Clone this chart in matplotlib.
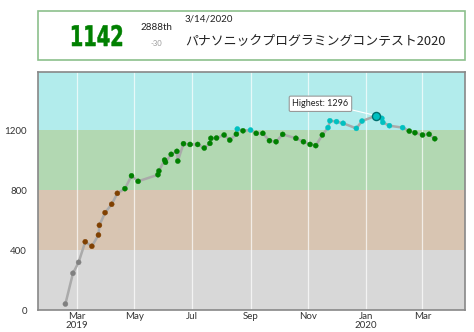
import numpy as np
import pandas as pd
import matplotlib
matplotlib.use("Agg")
import matplotlib.pyplot as plt
import matplotlib.transforms as mtransforms
from matplotlib.patches import FancyBboxPatch, PathPatch
from matplotlib.textpath import TextPath
from matplotlib.font_manager import FontProperties

plt.rcParams.update({"font.family": ["Lato", "DejaVu Sans"]})

# contest dates and ratings
dates = ["2019-02-17", "2019-02-25", "2019-03-03", "2019-03-10", "2019-03-17",
         "2019-03-24", "2019-03-25", "2019-03-31", "2019-04-07", "2019-04-13",
         "2019-04-21", "2019-04-28", "2019-05-05", "2019-05-26", "2019-05-27",
         "2019-06-02", "2019-06-03", "2019-06-09", "2019-06-15", "2019-06-16",
         "2019-06-22", "2019-06-29", "2019-07-07", "2019-07-14", "2019-07-20",
         "2019-07-21", "2019-07-27", "2019-08-04", "2019-08-10", "2019-08-17",
         "2019-08-18", "2019-08-24", "2019-09-01", "2019-09-07", "2019-09-14",
         "2019-09-21", "2019-09-28", "2019-10-05", "2019-10-19", "2019-10-27",
         "2019-11-03", "2019-11-09", "2019-11-16", "2019-11-22", "2019-11-24",
         "2019-12-01", "2019-12-08", "2019-12-22", "2019-12-28", "2020-01-12",
         "2020-01-18", "2020-01-19", "2020-01-26", "2020-02-09", "2020-02-16",
         "2020-02-22", "2020-03-01", "2020-03-08", "2020-03-14"]
ratings = [40, 245, 318, 455, 425, 500, 565, 649, 705, 778,
           809, 895, 858, 902, 927, 1000, 985, 1038, 1058, 993,
           1109, 1104, 1104, 1080, 1111, 1145, 1147, 1167, 1133, 1173,
           1207, 1195, 1200, 1178, 1178, 1129, 1122, 1171, 1145, 1122,
           1104, 1096, 1167, 1216, 1262, 1256, 1245, 1211, 1260, 1296,
           1278, 1251, 1229, 1216, 1193, 1182, 1167, 1172, 1142]

band_edges = [0, 400, 800, 1200, 1600]
band_colors = ["#d8d8d8", "#d8c5b2", "#b2d8b2", "#b2ecec"]
dot_colors = ["#808080", "#804000", "#008000", "#00c0c0"]

x_ticks = ["2019-03-01", "2019-05-01", "2019-07-01", "2019-09-01",
           "2019-11-01", "2020-01-01", "2020-03-01"]
x_labels = ["Mar\n2019", "May", "Jul", "Sep", "Nov", "Jan\n2020", "Mar"]
y_ticks = [0, 400, 800, 1200]

t = pd.to_datetime(dates)
r = np.array(ratings)

fig = plt.figure(figsize=(4.74, 3.32), dpi=100)
ax = fig.add_axes([38 / 474, 22 / 332, 427 / 474, 238 / 332])

for lo, hi, c in zip(band_edges[:-1], band_edges[1:], band_colors):
    ax.axhspan(lo, hi, color=c, zorder=0, lw=0)

ax.set_xlim(pd.Timestamp("2019-01-19"), pd.Timestamp("2020-04-15"))
ax.set_ylim(0, 1587)
ax.set_xticks(pd.to_datetime(x_ticks))
ax.set_xticklabels(x_labels, fontsize=7, color="#333333", linespacing=0.95)
ax.set_yticks(y_ticks)
ax.set_yticklabels([str(v) for v in y_ticks], fontsize=7, color="#333333")
ax.tick_params(length=0)
ax.tick_params(axis="x", pad=1.5)
ax.tick_params(axis="y", pad=8)
ax.grid(axis="x", color="white", lw=0.9, alpha=0.7, zorder=1)
for s in ax.spines.values():
    s.set_color("#888888")
    s.set_linewidth(1.2)

ax.plot(t, r, color="#aaaaaa", lw=1.8, zorder=2)
cols = [dot_colors[min(int(v // 400), 3)] for v in r]
ax.scatter(t, r, s=13, c=cols, edgecolors=cols, linewidths=0.3, zorder=3)

# highest marker
imax = int(np.argmax(r))
ax.scatter(t[imax], r[imax], s=34, c=dot_colors[3], edgecolors="#007070",
           linewidths=1.0, zorder=4)
ax.plot([pd.Timestamp("2019-12-10"), t[imax]], [1345, r[imax]],
        color="white", lw=0.8, zorder=3)
ax.text(pd.Timestamp("2019-11-14"), 1375, "Highest: %d" % r[imax],
        fontsize=6.5, ha="center", va="center", color="#222222", zorder=5,
        bbox=dict(boxstyle="round,pad=0.35,rounding_size=0.15",
                  fc="white", ec="#999999", lw=0.8))

# status card on top
card = FancyBboxPatch((38 / 474, 272 / 332), 427 / 474, 49 / 332,
                      boxstyle="square,pad=0", transform=fig.transFigure,
                      fc="white", ec="#8cc08c", lw=1.2)
fig.patches.append(card)

# condensed rating number: squeeze a bold text path into its box (pixels)
tp = TextPath((0, 0), "%d" % r[-1], size=20,
              prop=FontProperties(family="DejaVu Sans", weight="bold"))
bb = tp.get_extents()
box_x, box_y, box_w, box_h = 72, 332 - 46, 50, 21
tr = (mtransforms.Affine2D()
      .translate(-bb.x0, -bb.y0)
      .scale(box_w / bb.width, box_h / bb.height)
      .translate(box_x, box_y)
      .scale(1 / 100.0)) + fig.dpi_scale_trans
fig.patches.append(PathPatch(tp, transform=tr, fc="#008000", ec="#008000",
                             lw=0.4))

fig.text(156 / 474, 304 / 332, "2888th", fontsize=7, color="#222222",
         ha="center", va="center")
fig.text(156 / 474, 289 / 332, "-30", fontsize=5.5, color="#999999",
         ha="center", va="center")
fig.text(185 / 474, 313 / 332, "3/14/2020", fontsize=7, color="#222222",
         ha="left", va="center")
fig.text(185 / 474, 291 / 332, "パナソニックプログラミングコンテスト2020",
         fontsize=9.3, color="#222222", ha="left", va="center",
         family=["Noto Sans CJK JP", "DejaVu Sans"])

fig.savefig("out.png", dpi=100)
